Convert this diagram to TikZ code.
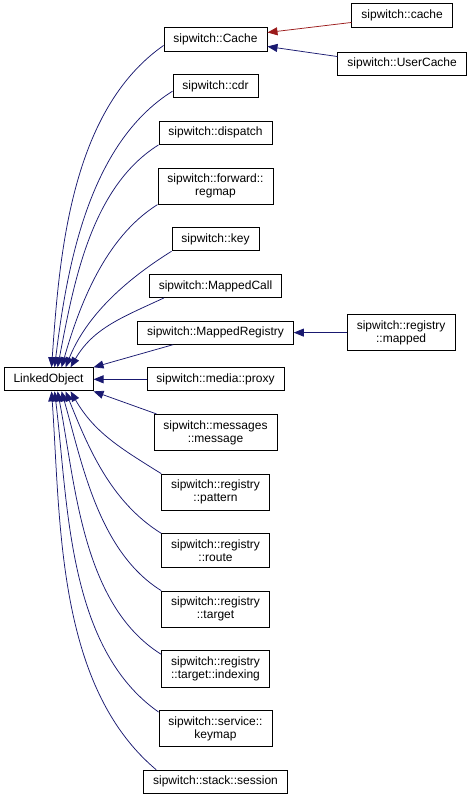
\documentclass[tikz,border=0pt]{standalone}
\usepackage{fontspec}
\setmainfont{Liberation Sans}
\usepackage{xcolor}
\usepackage{tikz}
\usetikzlibrary{positioning,arrows.meta,calc}
\definecolor{midnight}{HTML}{191970}
\definecolor{firebrick}{HTML}{9B1B1B}
\tikzset{
  cls/.style     ={draw=black, fill=white, line width=0.9pt, font=\fontsize{12}{13}\selectfont,
                   align=center, minimum height=23pt, inner xsep=9.5pt, inner ysep=6pt},
  inharr/.style  ={-{Triangle[length=10pt,width=8pt,fill=midnight]}, line width=0.75pt, draw=midnight},
  privarr/.style ={-{Triangle[length=10pt,width=8pt,fill=firebrick]}, line width=0.75pt, draw=firebrick},
}
\begin{document}
\begin{tikzpicture}[node distance=22.6pt and 53pt]
\useasboundingbox (0pt,0pt) rectangle (474pt,-794pt);
\node[cls] (ccache) at (215.5pt,-39.5pt) {sipwitch::Cache};
\node[cls, below=of ccache] (cdr) {sipwitch::cdr};
\node[cls, below=of cdr] (disp) {sipwitch::dispatch};
\node[cls, below=of disp] (regmap) {sipwitch::forward::\\regmap};
\node[cls, below=of regmap] (key) {sipwitch::key};
\node[cls, below=of key] (mcall) {sipwitch::MappedCall};
\node[cls, below=of mcall] (mreg) {sipwitch::MappedRegistry};
\node[cls, below=of mreg] (proxy) {sipwitch::media::proxy};
\node[cls, below=of proxy] (message) {sipwitch::messages\\::message};
\node[cls, below=of message] (pattern) {sipwitch::registry\\::pattern};
\node[cls, below=of pattern] (route) {sipwitch::registry\\::route};
\node[cls, below=of route] (target) {sipwitch::registry\\::target};
\node[cls, below=of target] (tindex) {sipwitch::registry\\::target::indexing};
\node[cls, below=of tindex] (keymap) {sipwitch::service::\\keymap};
\node[cls, below=of keymap] (session) {sipwitch::stack::session};
\node[cls, left=of proxy] (lo) {LinkedObject};
\node[cls, above right=0pt and 84pt of ccache] (cache) {sipwitch::cache};
\node[cls, below right=0pt and 70pt of ccache] (ucache) {sipwitch::UserCache};
\node[cls, right=of mreg] (mapped) {sipwitch::registry\\::mapped};

\draw[privarr] ($(cache.south west)+(0,5pt)$) -- ($(ccache.east)+(0,7pt)$);
\draw[inharr] ($(ucache.north west)+(0,-5pt)$) -- ($(ccache.east)+(0,-7pt)$);
\draw[inharr] (mapped) -- (mreg);
\draw[inharr] ($(ccache.west)+(0,-6pt)$) to[out=215,in=86,looseness=0.85] ($(lo.north)+(3pt,0)$);
\draw[inharr] ($(cdr.west)+(0,-5pt)$) to[out=212,in=83,looseness=0.85] ($(lo.north)+(6pt,0)$);
\draw[inharr] (disp.south west) to[out=212,in=79,looseness=0.85] ($(lo.north)+(9pt,0)$);
\draw[inharr] (regmap.south west) to[out=212,in=74,looseness=0.85] ($(lo.north)+(13pt,0)$);
\draw[inharr] (key.south west) to[out=212,in=68,looseness=0.9] ($(lo.north)+(17pt,0)$);
\draw[inharr] ($(mcall.south west)+(15pt,0)$) to[out=205,in=60] ($(lo.north)+(22pt,0)$);
\draw[inharr] ($(mreg.south west)+(36pt,0)$) -- (lo.north east);
\draw[inharr] (proxy) -- (lo);
\draw[inharr] ($(message.north west)+(3pt,0)$) -- (lo.south east);
\draw[inharr] (pattern.north west) to[out=148,in=-60] ($(lo.south)+(22pt,0)$);
\draw[inharr] (route.north west) to[out=148,in=-68,looseness=0.9] ($(lo.south)+(17pt,0)$);
\draw[inharr] (target.north west) to[out=148,in=-74,looseness=0.85] ($(lo.south)+(13pt,0)$);
\draw[inharr] ($(tindex.north west)+(0,-4pt)$) to[out=148,in=-79,looseness=0.85] ($(lo.south)+(9pt,0)$);
\draw[inharr] ($(keymap.north west)+(0,-2pt)$) to[out=145,in=-83,looseness=0.85] ($(lo.south)+(6pt,0)$);
\draw[inharr] ($(session.north west)+(13pt,0)$) to[out=140,in=-86,looseness=0.85] ($(lo.south)+(3pt,0)$);
\end{tikzpicture}
\end{document}
